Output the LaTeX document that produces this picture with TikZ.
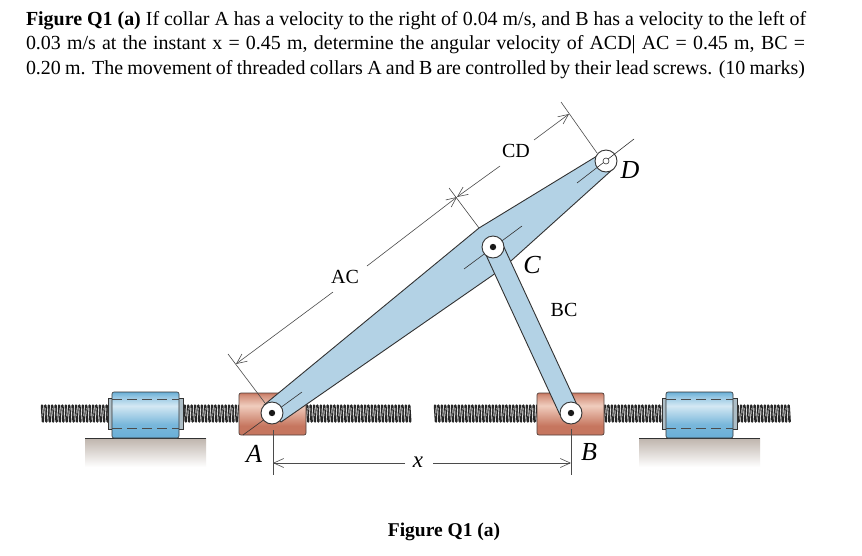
\documentclass[tikz,border=0pt]{standalone}
\usepackage{fontspec}
\setmainfont{Liberation Serif}
\usetikzlibrary{arrows.meta}
\definecolor{linkblue}{RGB}{179,210,229}
\definecolor{edge}{RGB}{50,50,50}
\definecolor{dimgray}{RGB}{75,75,75}
\definecolor{collarD}{RGB}{198,118,95}
\definecolor{collarL}{RGB}{240,205,190}
\definecolor{bushD}{RGB}{105,175,215}
\definecolor{bushL}{RGB}{212,232,243}
\definecolor{groundD}{RGB}{190,180,172}
\pgfdeclareverticalshading{collarsh}{100bp}{color(0bp)=(collarD); color(25bp)=(collarD); color(36bp)=(collarD); color(60bp)=(collarL); color(72bp)=(collarD!70!collarL); color(75bp)=(collarD); color(100bp)=(collarD)}
\pgfdeclareverticalshading{bushsh}{100bp}{color(0bp)=(bushD); color(25bp)=(bushD); color(40bp)=(bushD!85!bushL); color(60bp)=(bushL); color(70bp)=(bushD!60!bushL); color(75bp)=(bushD); color(100bp)=(bushD)}
\newcommand{\fullline}[1]{\spaceskip=0.25em plus 1em minus 0.25em\hbox to 779pt{#1}}
\tikzset{
  every node/.style={inner sep=0pt,outer sep=0pt},
  head/.style={font=\fontsize{19.95}{20}\selectfont,anchor=base west},
  lab/.style={font=\fontsize{20}{20}\selectfont},
  ital/.style={font=\fontsize{26}{26}\selectfont\itshape},
  linkfill/.style={fill=linkblue,draw=edge,line width=0.9pt,line join=round},
  thin dim/.style={draw=dimgray,line width=0.6pt},
  dimarrow/.style={thin dim,-{Straight Barb[length=10pt,width=9pt,line width=0.6pt]}},
  collar/.style={draw=edge!80!collarD,line width=0.7pt,rounded corners=2pt,shading=collarsh},
  bush/.style={draw=edge,line width=0.6pt,rounded corners=2pt,shading=bushsh},
  pin/.style={circle,fill=white,draw=edge,line width=0.9pt,minimum size=22pt},
  centre/.style={draw=edge,line width=0.6pt},
}
\newcommand{\screw}[2]{%
  \pgfmathtruncatemacro{\nn}{int((#2-#1)/3.4)}
  \foreach \i in {0,...,\nn}{
    \draw[black!85,line width=2.5pt,line cap=round] ({#1+\i*3.4},405.5) -- ({#1+\i*3.4+1},421.5);
    \draw[white!80!black,line width=0.4pt] ({#1+\i*3.4+0.2},408) -- ({#1+\i*3.4+0.6},416);
  }
}
\newcommand{\bushing}[1]{%
  \draw[edge,line width=0.6pt,fill=bushD!40!gray!60] ({#1-4},398) rectangle ({#1+71},429);
  \path[bush] (#1,392) rectangle ({#1+67},438);
  \draw[dimgray,line width=0.6pt,dash pattern=on 10pt off 5pt] (#1,399) -- ({#1+67},399);
  \draw[dimgray,line width=0.6pt,dash pattern=on 10pt off 5pt] (#1,428) -- ({#1+67},428);
}
\newcommand{\ground}[1]{%
  \fill[top color=groundD,bottom color=white] (#1,438) rectangle ({#1+121},467);
  \draw[edge,line width=0.8pt] (#1,438) -- ({#1+121},438);
}
\begin{document}
\begin{tikzpicture}[x=1pt,y=-1pt]
\useasboundingbox (0,0) rectangle (862,555);
\fill[white] (0,0) rectangle (862,555);

% heading
\node[head] (t1) at (26,25) {\textbf{Figure Q1 (a)} If collar A has a velocity to the right of 0.04 m/s, and B has a velocity to the left of};
\node[head] (t2) at (26,49.5) {\fullline{0.03 m/s at the instant x = 0.45 m, determine the angular velocity of ACD| AC = 0.45 m, BC =}};
\node[head] (t3) at (26,74) {\fullline{0.20 m. The movement of threaded collars A and B are controlled by their lead screws. (10 marks)}};

% key points
\coordinate (A) at (272,413);
\coordinate (B) at (571,413);
\coordinate (C) at (493,247);
\coordinate (D) at (606,161);

% ground and screws
\ground{85}
\ground{639}
\screw{42}{410}
\screw{435}{790}
\bushing{112}
\bushing{666}

% collars
\path[collar] (239,393) rectangle (306,435);
\path[collar] (537,393) rectangle (604,435);

% link ACD
\path[linkfill] (264,405) -- (479,228) -- (597,156) -- (613,169) -- (512,260) -- (493,275) -- (281,422) -- cycle;
% link BC
\path[linkfill] (486,255) -- (503,245) -- (578,407) -- (560,415) -- cycle;

% centre lines
\draw[centre] (243,435) -- (302,392);
\draw[centre] (464,269) -- (522,226);

% pins
\node[pin] (pa) at (A) {};
\node[pin] (pb) at (B) {};
\node[pin] (pc) at (C) {};
\node[pin] (pd) at (D) {};
\draw[centre] (577,183) -- (634,139);

\fill[black!90] (A) circle (3.2pt) (B) circle (3.2pt) (C) circle (3.2pt);
\draw[edge,line width=0.6pt,fill=white] (D) circle (3pt);

% dimension extension lines
\draw[thin dim] (228,354) -- (265,403);
\draw[thin dim] (449,188) -- (479,228);
\draw[thin dim] (561,102) -- (597,153);
\draw[thin dim] (273,430) -- (273,475);
\draw[thin dim] (571,429) -- (571,475);

% dimension lines
\coordinate (acm1) at (333,292);
\coordinate (acm2) at (367,266);
\coordinate (cdm1) at (500,166);
\coordinate (cdm2) at (534,140);
\coordinate (xm1) at (405,463);
\coordinate (xm2) at (433,463);
\draw[dimarrow] (acm1) -- (236,364);
\draw[dimarrow] (acm2) -- (457,197);
\draw[dimarrow] (cdm1) -- (457,197);
\draw[dimarrow] (cdm2) -- (569,114);
\draw[dimarrow] (xm1) -- (273,463);
\draw[dimarrow] (xm2) -- (571,463);

% labels
\node[lab] (lac) at (345,277) {AC};
\node[lab] (lcd) at (516,151) {CD};
\node[lab] (lbc) at (564,310) {BC};
\node[ital] (lc) at (532,265) {C};
\node[ital] (ld) at (630,170) {D};
\node[ital] (la) at (254,454) {A};
\node[ital] (lb) at (589,452) {B};
\node[font=\fontsize{23}{23}\selectfont\itshape] (lx) at (418,462) {x};
\node[font=\fontsize{19.5}{19.5}\selectfont\bfseries] (cap) at (444,532) {Figure Q1 (a)};
\end{tikzpicture}
\end{document}
